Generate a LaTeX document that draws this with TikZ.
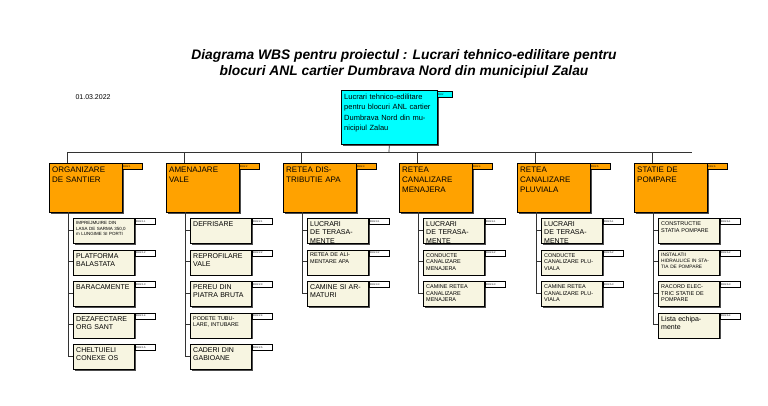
\documentclass[tikz,border=0pt]{standalone}
\usepackage{fontspec}
\setmainfont{Liberation Sans}
\definecolor{lvlone}{HTML}{FFA200}
\definecolor{rootc}{HTML}{00FFFF}
\definecolor{childc}{HTML}{F7F5E1}
\tikzset{
 box/.style={draw=black,line width=0.6pt,anchor=north west,inner sep=0pt},
 shad/.style={fill=black!70},
 lbl/.style={anchor=north west,inner sep=0pt,text width=#1,align=left},
 tag/.style={draw=black,line width=0.5pt,anchor=north west,inner sep=0.6pt,font=\fontsize{2.5}{3}\selectfont,minimum height=6pt,text width=19pt,align=left},
 conn/.style={draw=black!80,line width=0.7pt},
}
\newcommand{\mybox}[9]{% name, x, y, w, h, fill, font size, line skip, text
 \fill[shad] (#2+1.5,#3+1.5) rectangle (#2+#4+1.5,#3+#5+1.5);
 \node[box,fill=#6,minimum width=#4pt,minimum height=#5pt] (#1) at (#2,#3) {};
 \node[lbl=#4pt-9pt,font={\fontsize{#7}{#8}\selectfont}] (#1t) at (#2+3,#3+3.5) {\raggedright\hyphenpenalty=10000 #9};
}
\begin{document}
\begin{tikzpicture}[x=1pt,y=-1pt]
\useasboundingbox[fill=white] (0,0) rectangle (768,405);
\node[font=\bfseries\itshape\fontsize{13.8}{16.5}\selectfont,align=center] (title) at (404,64) {Diagrama WBS pentru proiectul : Lucrari tehnico-edilitare pentru\\blocuri ANL cartier Dumbrava Nord din municipiul Zalau};
\node[font=\fontsize{7}{8}\selectfont,anchor=west] (date) at (72,97) {01.03.2022};
% root
\mybox{root}{341}{90}{96}{54}{rootc}{7.5}{10.5}{Lucrari tehnico-edilitare pentru blocuri ANL cartier Dumbrava Nord din municipiul Zalau}
\node[tag,fill=rootc,text width=14pt] (roott) at (437,91) {0002};
\coordinate (bus) at (389,152);
\draw[conn] (root.south) -- (bus);
\draw[conn] (67,152) -- (692,152);
% level 1
\foreach \i/\x/\t in {1/49/{ORGANIZARE DE SANTIER},2/166/{AMENAJARE VALE},3/283/{RETEA DISTRIBUTIE APA},4/399/{RETEA CANALIZARE MENAJERA},5/517/{RETEA CANALIZARE PLUVIALA},6/634/{STATIE DE POMPARE}}{
 \draw[conn] (\x+18,152) -- (\x+18,163);
 \mybox{L\i}{\x}{163}{73}{49}{lvlone}{8}{10}{\t}
 \node[tag,fill=lvlone] (L\i tag) at (\x+73,163) {0002.\i};
}
% children
\newcommand{\kids}[3]{% col index, x, list
 \foreach \j/\fs/\t [count=\k] in {#3}{
  \pgfmathsetmacro{\yy}{218+31.5*(\k-1)}
  \pgfmathsetmacro{\ls}{\fs*1.2}
  \draw[conn] (#2+19,\yy+12) -- (#2+24,\yy+12);
  \mybox{C#1\k}{#2+24}{\yy}{61}{25}{childc}{\fs}{\ls}{\t}
  \node[tag,fill=white] (C#1\k tag) at (#2+86,\yy) {0002.#1.\j};
 }
}
\kids{1}{49}{1/4.5/{IMPREJMUIRE DIN LASA DE SARMA 350,0 m LUNGIME SI PORTI},2/7/{PLATFORMA BALASTATA},3/7/{BARACAMENTE},4/7/{DEZAFECTARE ORG SANT},5/7/{CHELTUIELI CONEXE OS}}
\draw[conn] (68,212) -- (68,356);
\kids{2}{166}{1/7/{DEFRISARE},2/7/{REPROFILARE VALE},3/7/{PEREU DIN PIATRA BRUTA},4/5.5/{PODETE TUBULARE, INTUBARE},5/7/{CADERI DIN GABIOANE}}
\draw[conn] (185,212) -- (185,356);
\kids{3}{283}{1/7/{LUCRARI DE TERASAMENTE},2/5.5/{RETEA DE ALIMENTARE APA},3/7/{CAMINE SI ARMATURI}}
\draw[conn] (302,212) -- (302,293);
\kids{4}{399}{1/7/{LUCRARI DE TERASAMENTE},2/5.5/{CONDUCTE CANALIZARE MENAJERA},3/5.5/{CAMINE RETEA CANALIZARE MENAJERA}}
\draw[conn] (418,212) -- (418,293);
\kids{5}{517}{1/7/{LUCRARI DE TERASAMENTE},2/5.5/{CONDUCTE CANALIZARE PLUVIALA},3/5.5/{CAMINE RETEA CANALIZARE PLUVIALA}}
\draw[conn] (536,212) -- (536,293);
\kids{6}{634}{1/5.5/{CONSTRUCTIE STATIA POMPARE},2/4.8/{INSTALATII HIDRAULICE IN STATIA DE POMPARE},3/5.5/{RACORD ELECTRIC STATIE DE POMPARE},4/7/{Lista echipamente}}
\draw[conn] (653,212) -- (653,325);
\end{tikzpicture}
\end{document}
